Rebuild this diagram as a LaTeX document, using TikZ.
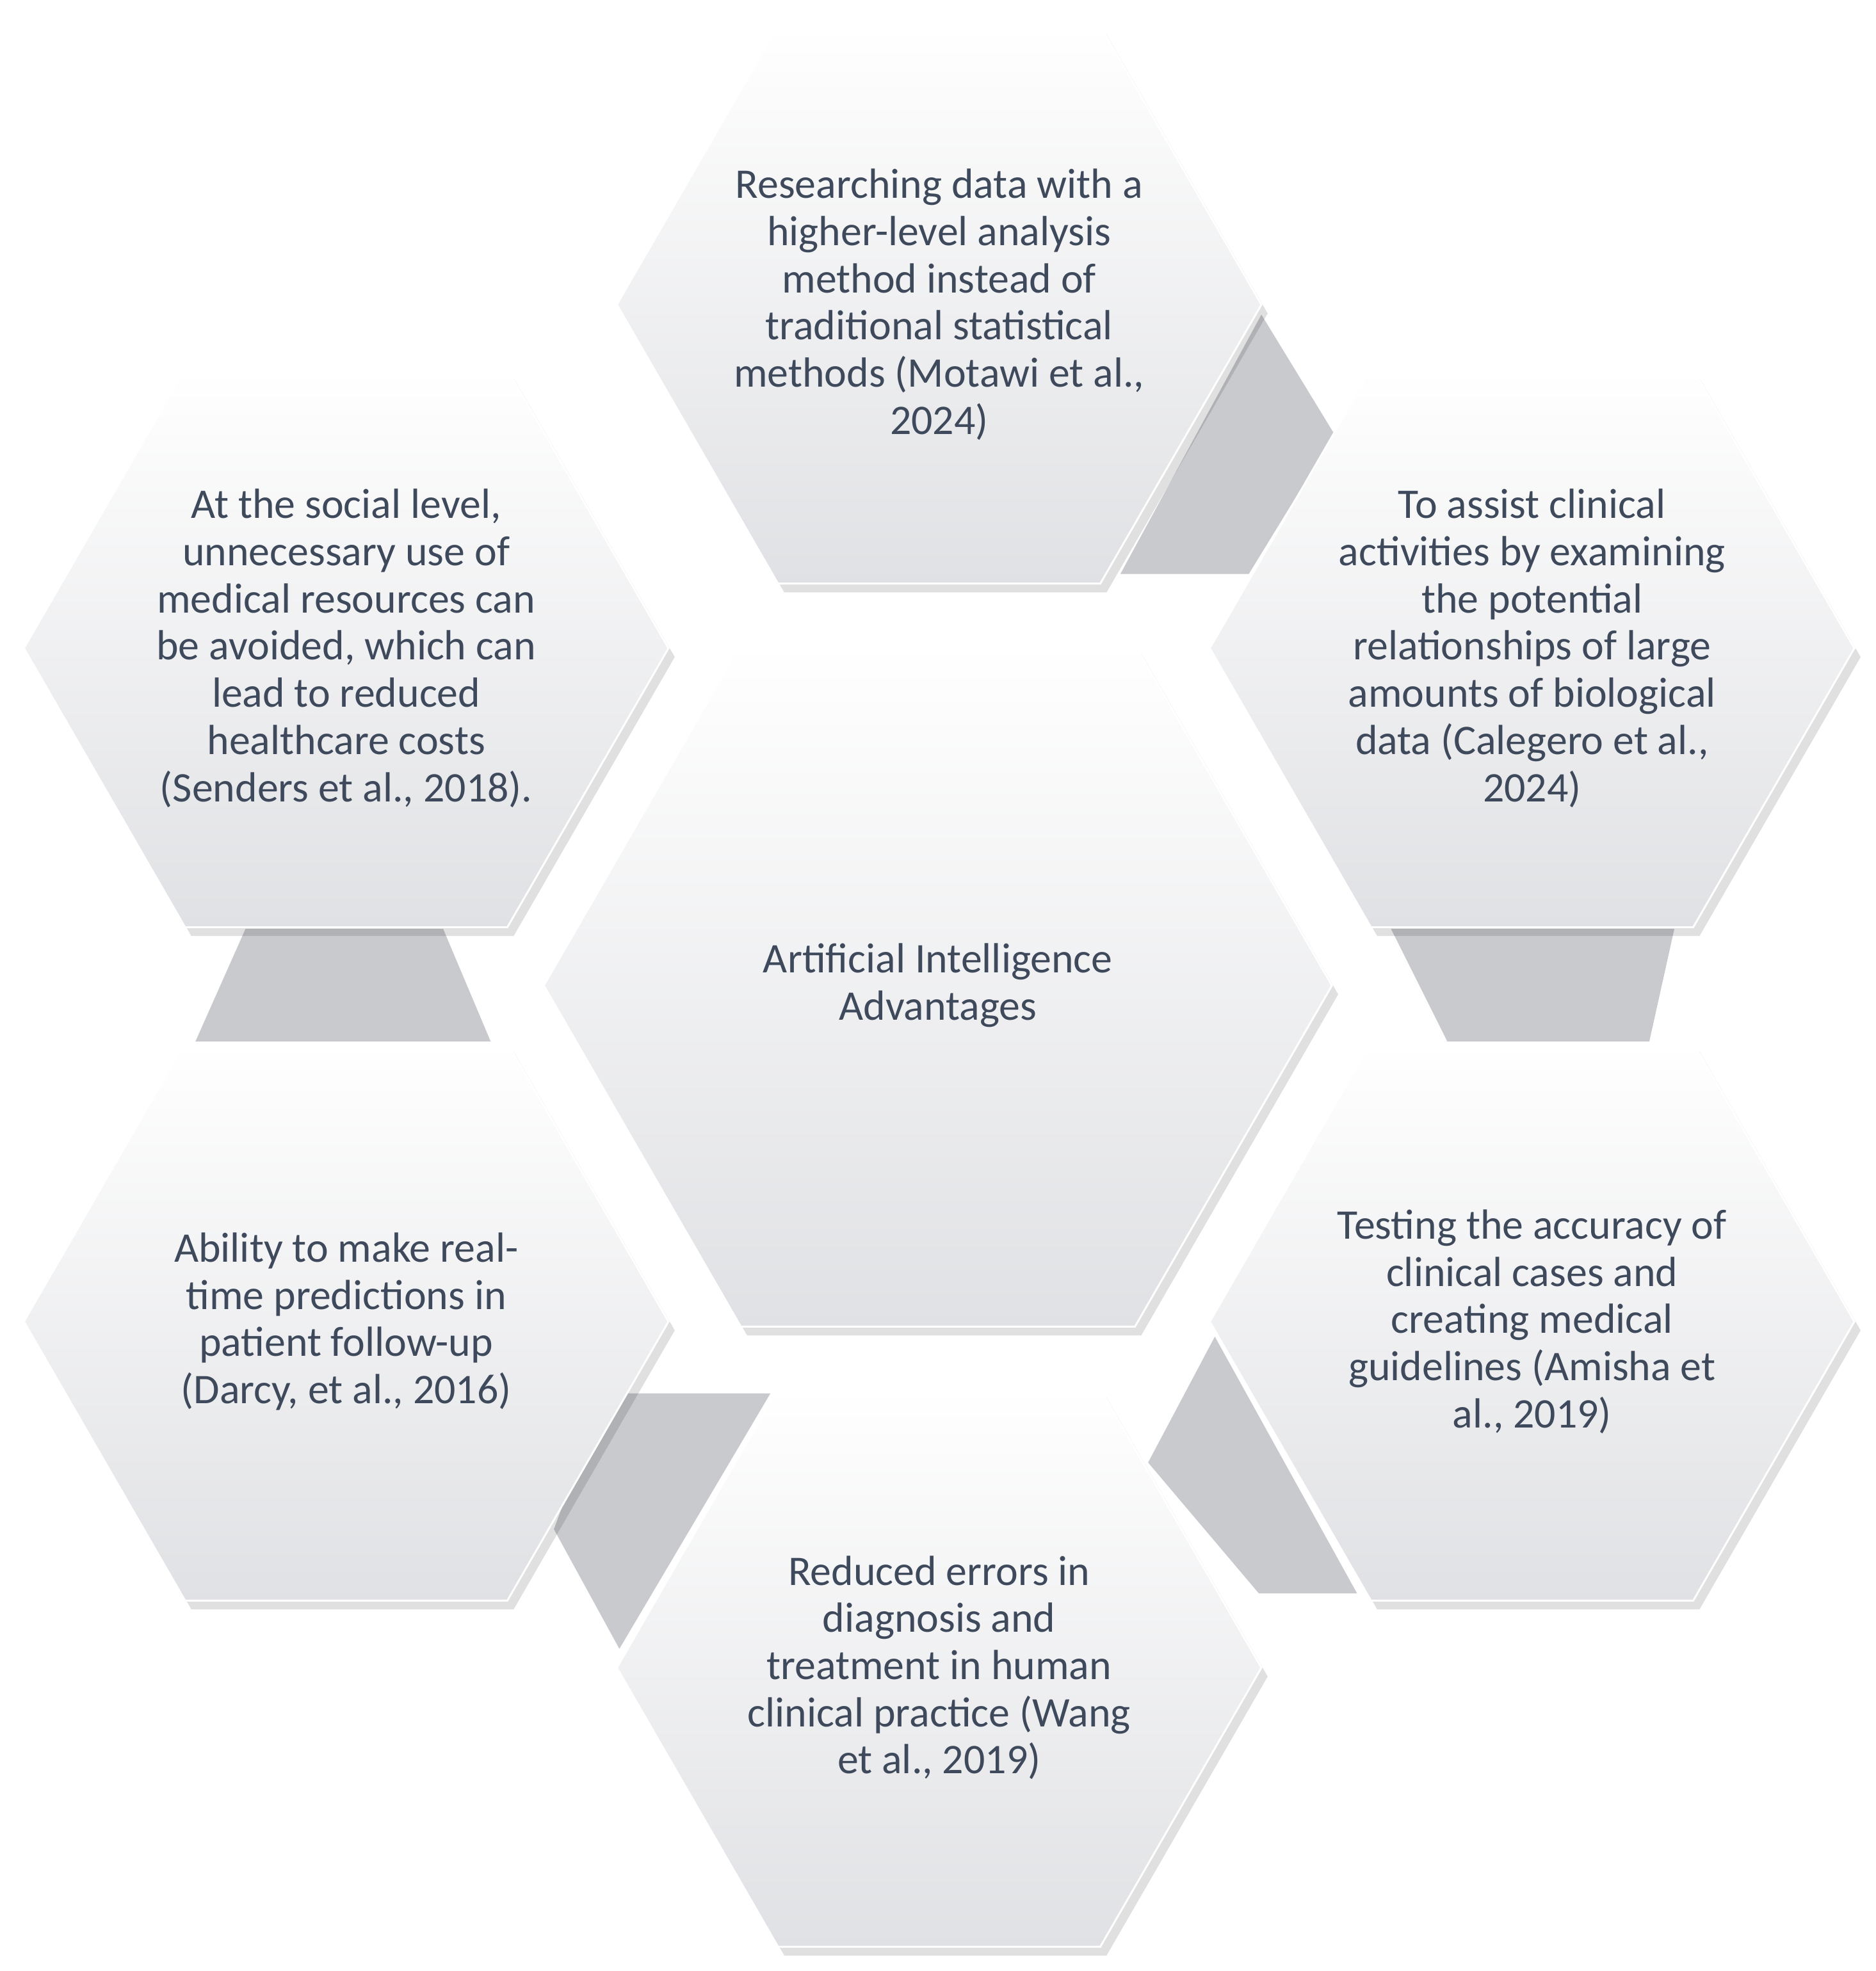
\documentclass[tikz,border=0pt]{standalone}
\usepackage{fontspec}
\setmainfont{Carlito}
\definecolor{txt}{HTML}{3E4A5C}
\definecolor{band}{HTML}{C9CACE}
\definecolor{hexbot}{HTML}{E0E1E4}
\tikzset{hextext/.style={text=txt,align=center,font=\fontsize{33.5}{37.5}\selectfont}}
\newcommand{\myhex}[4]{%
 \fill[black,opacity=0.12] ($(#1,#2)+(5,7)$) ++(#3,0) -- ++(-0.5*#3,0.866*#3) -- ++(-#3,0) -- ++(-0.5*#3,-0.866*#3) -- ++(0.5*#3,-0.866*#3) -- ++(#3,0) -- cycle;
 \shade[top color=white,bottom color=hexbot,draw=white,line width=1.5pt] (#1,#2) ++(#3,0) -- ++(-0.5*#3,0.866*#3) -- ++(-#3,0) -- ++(-0.5*#3,-0.866*#3) -- ++(0.5*#3,-0.866*#3) -- ++(#3,0) -- cycle;
 \node[hextext] (#4) at (#1,#2) {};}
\usetikzlibrary{calc}
\begin{document}
\begin{tikzpicture}[x=1pt,y=-1pt]
\useasboundingbox (0,0) rectangle (1490,1566);
\fill[white] (0,0) rectangle (1490,1566);
% bands
\fill[band] (1002,250) -- (1060,345) -- (992,456) -- (890,456) -- cycle;
\fill[band] (195,738) -- (352,738) -- (390,828) -- (155,828) -- cycle;
\fill[band] (1105,738) -- (1330,738) -- (1310,828) -- (1150,828) -- cycle;
\fill[band] (480,1107) -- (612,1107) -- (492,1310) -- (440,1215) -- cycle;
\fill[band] (965,1062) -- (1078,1266) -- (1000,1266) -- (912,1162) -- cycle;
% hexes
\myhex{746}{242}{256}{top}
\myhex{275}{515}{256}{ul}
\myhex{1217}{515}{256}{ur}
\myhex{745}{783}{313}{ctr}
\myhex{275}{1050}{256}{ll}
\myhex{1217}{1050}{256}{lr}
\myhex{746}{1325}{256}{bot}
\node[hextext] at (top) {Researching data with a\\higher-level analysis\\method instead of\\traditional statistical\\methods (Motawi et al.,\\2024)};
\node[hextext] at (ul) {At the social level,\\unnecessary use of\\medical resources can\\be avoided, which can\\lead to reduced\\healthcare costs\\(Senders et al., 2018).};
\node[hextext] at (ur) {To assist clinical\\activities by examining\\the potential\\relationships of large\\amounts of biological\\data (Calegero et al.,\\2024)};
\node[hextext] at (ctr) {Artificial Intelligence\\Advantages};
\node[hextext] at (ll) {Ability to make real-\\time predictions in\\patient follow-up\\(Darcy, et al., 2016)};
\node[hextext] at (lr) {Testing the accuracy of\\clinical cases and\\creating medical\\guidelines (Amisha et\\al., 2019)};
\node[hextext] at (bot) {Reduced errors in\\diagnosis and\\treatment in human\\clinical practice (Wang\\et al., 2019)};
\end{tikzpicture}
\end{document}
